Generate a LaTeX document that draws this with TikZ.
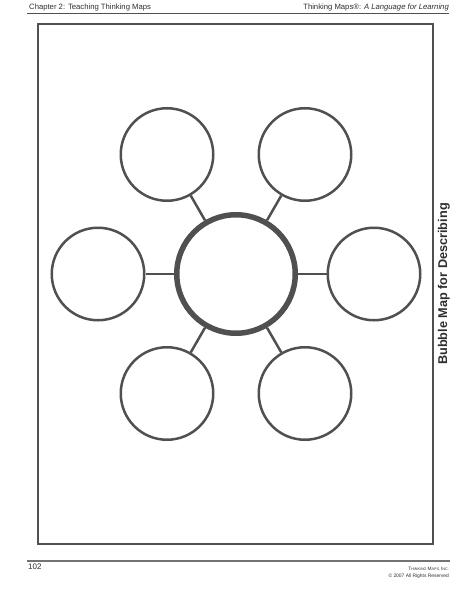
\documentclass[tikz,border=0pt]{standalone}
\usepackage{fontspec}
\setmainfont{Liberation Sans}
\usepackage{tikz}
\definecolor{ink}{HTML}{505050}
\definecolor{print}{HTML}{2E2E2E}

\begin{document}
\begin{tikzpicture}[x=1pt, y=-1pt,
			bubble/.style={circle, draw=ink, line width=2.5pt, inner sep=0pt, minimum size=92.5pt},
			topic/.style={circle, draw=ink, line width=5.5pt, inner sep=0pt, minimum size=118.5pt},
			spoke/.style={draw=ink, line width=2.5pt},
			hdr/.style={font=\fontsize{7.7}{9}\selectfont, text=print, inner sep=0pt}]
			\useasboundingbox (0,0) rectangle (474,594);
			% running head
			\node[hdr, anchor=base west] (chapter) at (29,10) {Chapter 2: Teaching Thinking Maps};
			\node[hdr, anchor=base east] (book) at (449,10) {Thinking Maps\textregistered: \textit{A Language for Learning}};
			\draw[line width=1.6pt, ink] (27,13.5) -- (449,13.5);
			% frame
			\draw[line width=2.6pt, ink] (38,24) rectangle (433,544);
			\node[font=\bfseries\fontsize{12.7}{14}\selectfont, text=print, rotate=90, anchor=base, inner sep=0pt] (title) at (447,284) {Bubble Map for Describing};
			% bubbles
			\node[topic] (topic) at (236,274) {};
			\node[bubble] (bubNW) at (167,154.5) {};
			\node[bubble] (bubNE) at (305,154.5) {};
			\node[bubble] (bubW) at (98,274) {};
			\node[bubble] (bubE) at (374,274) {};
			\node[bubble] (bubSW) at (167,393.5) {};
			\node[bubble] (bubSE) at (305,393.5) {};
			\draw[spoke] (topic) -- (bubNW);
			\draw[spoke] (topic) -- (bubNE);
			\draw[spoke] (topic) -- (bubW);
			\draw[spoke] (topic) -- (bubE);
			\draw[spoke] (topic) -- (bubSW);
			\draw[spoke] (topic) -- (bubSE);
			% foot
			\draw[line width=1.6pt, ink!80] (27,561) -- (450,561);
			\node[font=\fontsize{8}{9}\selectfont, text=print, anchor=base west, inner sep=0pt] (page) at (28,569) {102};
			\node[text=print, anchor=base east, inner sep=0pt] (firm) at (449,570) {{\fontsize{4.8}{5}\selectfont T}{\fontsize{3.7}{5}\selectfont HINKING }{\fontsize{4.8}{5}\selectfont M}{\fontsize{3.7}{5}\selectfont APS, }{\fontsize{4.8}{5}\selectfont I}{\fontsize{3.7}{5}\selectfont NC.}};
			\node[font=\fontsize{4.9}{5}\selectfont, text=print, anchor=base east, inner sep=0pt] (rights) at (449,577) {\textcopyright{} 2007 All Rights Reserved};
		\end{tikzpicture}
\end{document}
